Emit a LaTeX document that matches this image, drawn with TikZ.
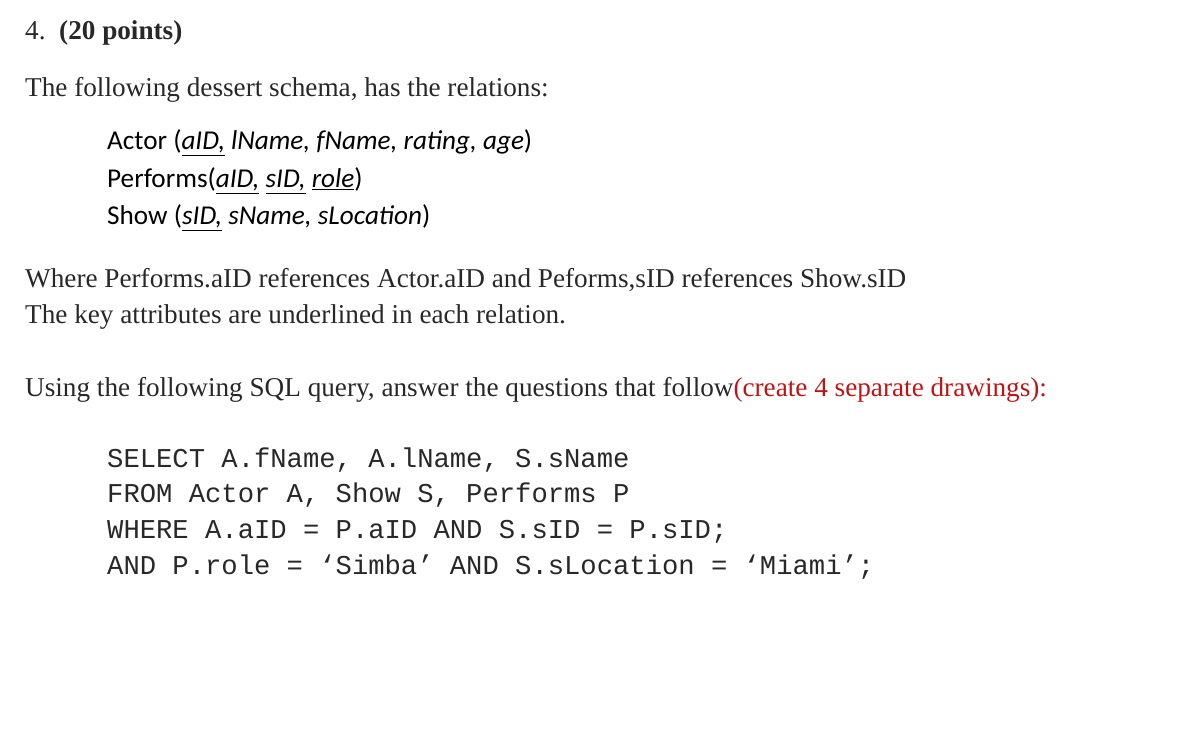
\documentclass[tikz,border=0pt]{standalone}
\usepackage{fontspec}
\setmainfont{LiberationSerif}[Extension=.ttf,UprightFont=*-Regular,BoldFont=*-Bold,ItalicFont=*-Italic]
\newfontfamily\calib{Carlito}
\setmonofont{Liberation Mono}
\definecolor{txt}{RGB}{40,40,40}
\definecolor{redq}{RGB}{192,20,20}
\begin{document}
\begin{tikzpicture}[x=1pt,y=1pt,
  tx/.style={anchor=base west,inner sep=0pt,text=txt,font=\fontsize{27.2}{30}\selectfont},
  sc/.style={anchor=base west,inner sep=0pt,text=black,font=\calib\fontsize{27.2}{30}\selectfont},
  cd/.style={anchor=base west,inner sep=0pt,text=txt,font=\ttfamily\fontsize{27.2}{30}\selectfont}]
\useasboundingbox[fill=white] (0,0) rectangle (1179,-733);
\node[tx] (h) at (25,-40) {4.\ \ \textbf{(20 points)}};
\node[tx] (l1) at (25,-97) {The following dessert schema, has the relations:};
\node[sc] (s1) at (107,-150) {Actor (\underline{\itshape aID,} {\itshape lName, fName, rating, age})};
\node[sc] (s2) at (107,-188) {Performs(\underline{\itshape aID,} \underline{\itshape sID,} \underline{\itshape role})};
\node[sc] (s3) at (107,-225) {Show (\underline{\itshape sID,} {\itshape sName, sLocation})};
\node[tx] (l2) at (25,-287) {Where Performs.aID references Actor.aID and Peforms,sID references Show.sID};
\node[tx] (l3) at (25,-323) {The key attributes are underlined in each relation.};
\node[tx] (l4) at (25,-396) {Using the following SQL query, answer the questions that follow\textcolor{redq}{(create 4 separate drawings):}};
\node[cd] (c1) at (107,-467) {SELECT A.fName, A.lName, S.sName};
\node[cd] (c2) at (107,-502) {FROM Actor A, Show S, Performs P};
\node[cd] (c3) at (107,-538) {WHERE A.aID = P.aID AND S.sID = P.sID;};
\node[cd] (c4) at (107,-574) {AND P.role = ‘Simba’ AND S.sLocation = ‘Miami’;};
\end{tikzpicture}
\end{document}
